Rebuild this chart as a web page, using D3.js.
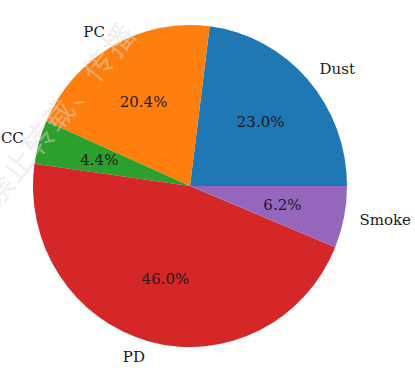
<!DOCTYPE html>
<html>
<head>
<meta charset="utf-8">
<script src="https://cdn.jsdelivr.net/npm/d3@7"></script>
<style>
  body { margin: 0; background: #fff; }
  svg text { font-family: "DejaVu Serif", serif; }
</style>
</head>
<body>
<div id="chart"></div>
<script>
const labels = ["Dust", "PC", "CC", "PD", "Smoke"];
const shares = [23.0, 20.4, 4.4, 46.0, 6.2];
const colors = ["#1f77b4", "#ff7f0e", "#2ca02c", "#d62728", "#9467bd"];

const width = 415, height = 374;
const cx = 190, cy = 186;
const r = 157, yStretch = 161 / 157;

const svg = d3.select("#chart").append("svg")
    .attr("width", width)
    .attr("height", height);

const data = labels.map((l, i) => ({ label: l, value: shares[i], color: colors[i] }));

// matplotlib style: start at 3 o'clock, go counterclockwise
const pie = d3.pie()
    .value(d => d.value)
    .sort(null)
    .startAngle(Math.PI / 2)
    .endAngle(Math.PI / 2 - 2 * Math.PI);

const arc = d3.arc().innerRadius(0).outerRadius(r);
const arcs = pie(data);

const g = svg.append("g")
    .attr("transform", `translate(${cx},${cy}) scale(1,${yStretch})`);

g.selectAll("path.slice")
    .data(arcs)
    .enter()
    .append("path")
    .attr("class", "slice")
    .attr("d", arc)
    .attr("fill", d => d.data.color);

// text positions in screen space (no scaling of glyphs)
const mid = d => (d.startAngle + d.endAngle) / 2;
const px = (d, k) => cx + k * r * Math.sin(mid(d));
const py = (d, k) => cy - k * r * yStretch * Math.cos(mid(d));

svg.selectAll("text.pct")
    .data(arcs)
    .enter()
    .append("text")
    .attr("class", "pct")
    .attr("x", d => px(d, 0.6))
    .attr("y", d => py(d, 0.6))
    .attr("text-anchor", "middle")
    .attr("dominant-baseline", "central")
    .attr("font-size", 15)
    .attr("fill", "#1a1a1a")
    .text(d => d.data.value.toFixed(1) + "%");

svg.selectAll("text.lbl")
    .data(arcs)
    .enter()
    .append("text")
    .attr("class", "lbl")
    .attr("x", d => px(d, 1.1))
    .attr("y", d => py(d, 1.1))
    .attr("text-anchor", d => Math.sin(mid(d)) > 0 ? "start" : "end")
    .attr("dominant-baseline", "central")
    .attr("font-size", 15)
    .attr("fill", "#1a1a1a")
    .text(d => d.data.label);

// faint watermark, runs off the left edge like in the source image
svg.append("text")
    .attr("transform", "translate(128,26) rotate(-51)")
    .attr("text-anchor", "end")
    .attr("dominant-baseline", "central")
    .attr("font-size", 30)
    .style("font-family", "'Noto Sans CJK SC'")
    .attr("font-weight", 300)
    .attr("fill", "#ffffff")
    .attr("fill-opacity", 0.3)
    .attr("stroke", "#c8c8c8")
    .attr("stroke-width", 0.5)
    .attr("stroke-opacity", 0.6)
    .attr("letter-spacing", 2)
    .text("禁止转载、传播");
</script>
</body>
</html>
